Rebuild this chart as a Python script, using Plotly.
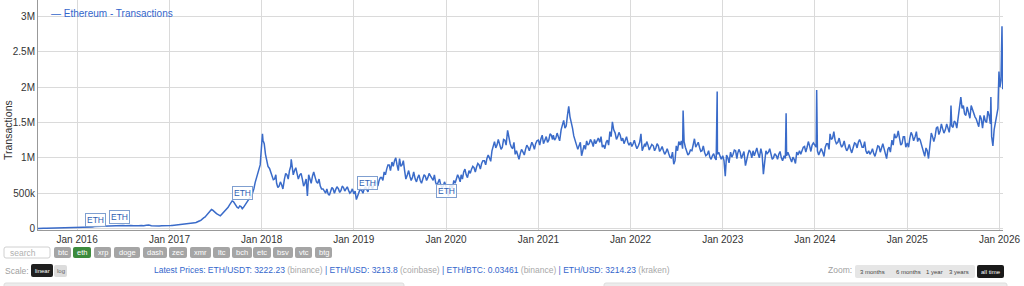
import plotly.graph_objects as go
import pandas as pd

# ---------------- DATA (daily Ethereum transactions, in thousands) ----------------
# values read on days 1, 11 and 21 of each month
tx_2015 = [1, 2, 3, 3, 4, 4, 4, 5, 5, 5, 6, 6, 7, 8, 9]  # Aug..Dec 2015
tx_2016 = [10, 12, 12, 14, 16, 18, 22, 28, 30, 28, 26, 30, 30, 32, 35, 40, 45, 50,
           42, 40, 45, 42, 40, 45, 40, 42, 38, 45, 50, 40, 35, 38, 36, 38, 36, 40]
tx_2017 = [40, 42, 45, 45, 48, 50, 55, 60, 65, 70, 80, 90, 110, 140, 160, 200, 250, 260,
           230, 200, 180, 220, 260, 300, 360, 380, 340, 290, 310, 300, 360, 420, 450, 560, 720, 850]
tx_2018 = [1150, 1200, 950, 850, 740, 700, 640, 600, 620, 700, 760, 820, 900, 820, 780, 760, 700, 640,
           460, 700, 740, 720, 640, 600, 560, 500, 490, 520, 560, 550, 560, 540, 580, 560, 540, 520]
tx_2019 = [490, 410, 500, 540, 560, 550, 580, 600, 620, 650, 680, 720, 800, 840, 900, 940, 960, 900,
           990, 900, 820, 760, 740, 720, 700, 720, 680, 700, 740, 720, 740, 680, 650, 650, 620, 600]
tx_2020 = [600, 460, 620, 680, 700, 720, 760, 800, 760, 820, 840, 860, 870, 900, 920, 960, 990, 1000,
           1100, 1230, 1180, 1200, 1150, 1250, 1390, 1200, 1130, 1050, 1030, 1060, 1080, 1120, 1150, 1160, 1180, 1200]
tx_2021 = [1250, 1270, 1200, 1300, 1250, 1320, 1320, 1280, 1300, 1400, 1530, 1450, 1730, 1510, 1310, 1200, 1170, 1030,
           1180, 1240, 1200, 1220, 1260, 1230, 1220, 1150, 1130, 1250, 1370, 1510, 1350, 1300, 1320, 1280, 1250, 1220]
tx_2022 = [1220, 1200, 1180, 1170, 1340, 1150, 1160, 1180, 1150, 1170, 1140, 1170, 1120, 1100, 1080, 1060, 1000, 910,
           1170, 1230, 1240, 1230, 1100, 1060, 1100, 1270, 1200, 1150, 1100, 1080, 1050, 1010, 1030, 1000, 1050, 1030]
tx_2023 = [1030, 740, 1000, 1080, 1050, 1100, 1060, 1080, 1040, 890, 1050, 1080, 1100, 1080, 1060, 1130, 770, 1100,
           1080, 1030, 1000, 1030, 1050, 1000, 1030, 1030, 1030, 940, 980, 1080, 1100, 1120, 1160, 1150, 1170, 1180]
tx_2024 = [1180, 1100, 1080, 1080, 1150, 1200, 1340, 1280, 1250, 1220, 1200, 1180, 1150, 1130, 1120, 1150, 1200, 1220,
           1210, 1150, 1100, 1100, 1080, 1060, 1100, 1160, 1140, 1130, 990, 1150, 1250, 1340, 1300, 1250, 1200, 1300]
tx_2025 = [1210, 1280, 1320, 1300, 1230, 1250, 1150, 1020, 1100, 1210, 1300, 1300, 1440, 1380, 1410, 1400, 1420, 1500,
           1430, 1500, 1550, 1860, 1740, 1600, 1650, 1740, 1650, 1550, 1440, 1550, 1600, 1500, 1600, 1300, 1400, 1600]

# values read on days 6, 16 and 26 of each month (day-to-day scatter of the band)
mid_2017 = [41, 44, 46, 47, 49, 52, 58, 62, 68, 75, 85, 100, 120, 150, 180, 230, 270, 240,
            210, 190, 200, 240, 280, 330, 390, 350, 300, 320, 280, 330, 400, 440, 500, 650, 800, 900]
mid_2018 = [1250, 1050, 880, 800, 690, 760, 580, 660, 560, 780, 700, 880, 760, 860, 700, 780, 600, 700,
            760, 640, 800, 660, 700, 560, 520, 560, 470, 580, 500, 590, 510, 600, 530, 590, 500, 560]
mid_2019 = [530, 460, 560, 500, 590, 520, 630, 560, 660, 600, 720, 680, 760, 900, 820, 880, 1000, 820,
            880, 960, 700, 820, 680, 800, 660, 760, 640, 760, 680, 780, 700, 760, 610, 700, 580, 660]
mid_2020 = [540, 600, 560, 640, 760, 660, 700, 840, 720, 780, 880, 800, 920, 840, 960, 900, 1040, 950,
            1180, 1140, 1260, 1120, 1260, 1180, 1280, 1150, 1220, 1100, 980, 1120, 1040, 1180, 1100, 1220, 1120, 1240]
mid_2021 = [1180, 1320, 1240, 1220, 1340, 1260, 1250, 1350, 1240, 1460, 1420, 1600, 1580, 1420, 1250, 1120, 1220, 1100,
            1120, 1180, 1260, 1160, 1200, 1280, 1300, 1180, 1220, 1180, 1300, 1400, 1260, 1360, 1240, 1200, 1300, 1180]
mid_2022 = [1160, 1250, 1130, 1220, 1100, 1200, 1230, 1110, 1190, 1100, 1200, 1090, 1160, 1050, 1130, 1010, 1080, 960,
            1100, 1180, 1130, 1150, 1040, 1110, 1180, 1150, 1220, 1090, 1170, 1030, 1100, 980, 1060, 970, 1080, 980]
mid_2023 = [960, 1040, 930, 1010, 1110, 990, 1120, 990, 1090, 990, 1110, 1000, 1030, 1140, 1000, 1050, 1000, 1060,
            1130, 980, 1060, 980, 1090, 960, 990, 1080, 960, 1010, 920, 1040, 1050, 1150, 1080, 1230, 1090, 1210]
mid_2024 = [1150, 1040, 1130, 1020, 1200, 1120, 1260, 1370, 1200, 1280, 1150, 1240, 1100, 1190, 1070, 1210, 1140, 1260,
            1150, 1230, 1060, 1050, 1130, 1020, 1170, 1080, 1200, 1060, 1120, 1080, 1180, 1280, 1380, 1180, 1300, 1150]
mid_2025 = [1150, 1360, 1240, 1370, 1280, 1180, 1080, 1140, 990, 1350, 1230, 1420, 1330, 1480, 1350, 1480, 1360, 1450,
            1520, 1420, 1640, 1700, 1620, 1720, 1560, 1680, 1580, 1480, 1600, 1420, 1520, 1660, 1480, 1170, 1500, 1700]

# individual days (spikes / dips / ends)
extra_dates = ["2015-07-30", "2017-12-28", "2018-01-04", "2018-04-28", "2022-07-28", "2022-12-10",
               "2023-09-09", "2024-01-08", "2025-06-23", "2025-11-28",
               "2025-12-30", "2026-01-03", "2026-01-07", "2026-01-11", "2026-01-14"]
extra_values = [0, 1000, 1340, 980, 1670, 1940,
                1630, 1960, 1740, 1860,
                2220, 2000, 2100, 2860, 1970]

# "ETH" event markers
eth_note_dates = ["2016-03-14", "2016-06-18", "2017-10-15", "2019-02-23", "2020-01-02"]
eth_note_values = [120, 163, 509, 637, 531]

y_tick_values = [0, 500000, 1000000, 1500000, 2000000, 2500000, 3000000]
y_tick_labels = ["0", "500k", "1M", "1.5M", "2M", "2.5M", "3M"]
x_tick_years = list(range(2016, 2027))
x_tick_labels = ["Jan %d" % y for y in x_tick_years]

coins = ["btc", "eth", "xrp", "doge", "dash", "zec", "xmr", "ltc", "bch", "etc", "bsv", "vtc", "btg"]
zoom_buttons = ["3 months", "6 months", "1 year", "3 years"]

# ---------------- build series ----------------
dates, vals = [], []


def add(year, start_month, arr, days):
    for i, v in enumerate(arr):
        dates.append(pd.Timestamp(year=year, month=start_month + i // 3, day=days[i % 3]))
        vals.append(v * 1000)


for year, start_month, arr in [(2015, 8, tx_2015), (2016, 1, tx_2016), (2017, 1, tx_2017),
                               (2018, 1, tx_2018), (2019, 1, tx_2019), (2020, 1, tx_2020),
                               (2021, 1, tx_2021), (2022, 1, tx_2022), (2023, 1, tx_2023),
                               (2024, 1, tx_2024), (2025, 1, tx_2025)]:
    add(year, start_month, arr, [1, 11, 21])
for year, arr in [(2017, mid_2017), (2018, mid_2018), (2019, mid_2019), (2020, mid_2020),
                  (2021, mid_2021), (2022, mid_2022), (2023, mid_2023), (2024, mid_2024),
                  (2025, mid_2025)]:
    add(year, 1, arr, [6, 16, 26])
for d, v in zip(extra_dates, extra_values):
    dates.append(pd.Timestamp(d))
    vals.append(v * 1000)
df = pd.DataFrame({"date": dates, "tx": vals}).sort_values("date")

LINE = "#3a6bc9"
BLUE_TXT = "#3366cc"
FONT = "Liberation Sans, Arial, sans-serif"

fig = go.Figure()
fig.add_trace(go.Scatter(x=df["date"], y=df["tx"], mode="lines",
                         line=dict(color=LINE, width=1.5), name="Ethereum - Transactions",
                         hoverinfo="skip"))

# ---------------- geometry helpers (pixel -> paper) ----------------
W, H = 1024, 286
ML, MR, MT, MB = 38, 21, 0, 56
PW, PH = W - ML - MR, H - MT - MB


def px(x):
    return (x - ML) / PW


def py(y):
    return (MT + PH - y) / PH


shapes = []
annotations = []


def rrect(x0, y0, x1, y1, fill, line=None, r=2):
    path = (f"M {px(x0 + r)},{py(y0)} L {px(x1 - r)},{py(y0)} Q {px(x1)},{py(y0)} {px(x1)},{py(y0 + r)} "
            f"L {px(x1)},{py(y1 - r)} Q {px(x1)},{py(y1)} {px(x1 - r)},{py(y1)} "
            f"L {px(x0 + r)},{py(y1)} Q {px(x0)},{py(y1)} {px(x0)},{py(y1 - r)} "
            f"L {px(x0)},{py(y0 + r)} Q {px(x0)},{py(y0)} {px(x0 + r)},{py(y0)} Z")
    shapes.append(dict(type="path", xref="paper", yref="paper", path=path,
                       fillcolor=fill, line=dict(color=line or fill, width=1 if line else 0),
                       layer="above"))


def text(x, y, s, size, color, anchor="left"):
    annotations.append(dict(xref="paper", yref="paper", x=px(x), y=py(y), text=s,
                            showarrow=False, xanchor=anchor, yanchor="middle",
                            font=dict(size=size, color=color, family=FONT)))


# legend text
text(49, 14, "— Ethereum - Transactions", 10, BLUE_TXT)

# y-axis title
annotations.append(dict(xref="paper", yref="paper", x=px(8), y=py(130), text="Transactions",
                        textangle=-90, showarrow=False, xanchor="center", yanchor="middle",
                        font=dict(size=10.5, color="#333", family=FONT)))

# ETH event boxes
for d, v in zip(eth_note_dates, eth_note_values):
    annotations.append(dict(x=pd.Timestamp(d), y=v * 1000, xref="x", yref="y", text="ETH",
                            showarrow=False, xanchor="center", yanchor="middle",
                            font=dict(size=8.5, color="#2f5fb3", family=FONT),
                            bgcolor="rgba(255,255,255,0.85)", bordercolor="#7f9fd0",
                            borderwidth=1, borderpad=1))

# search box + coin buttons
rrect(4, 247, 50, 258, "#ffffff", line="#d0d0d0", r=2)
text(8, 252.5, "search", 8.5, "#b0b0b0")
coin_x = [54, 73, 94, 114, 143, 169, 190, 213, 232, 253, 273, 295, 315]
coin_w = [17, 18, 17, 26, 24, 18, 21, 17, 20, 18, 20, 17, 17]
for c, x0, w in zip(coins, coin_x, coin_w):
    rrect(x0, 247, x0 + w, 258, "#3d8b3d" if c == "eth" else "#a5a5a5", r=2)
    text(x0 + w / 2, 252.5, c, 7.5, "#ffffff", anchor="center")

# scale row
text(3, 270.5, "Scale:", 8.5, "#a0a0a0")
rrect(31, 264, 53, 277, "#1f1f1f", r=2)
text(42, 270.5, "linear", 6, "#ffffff", anchor="center")
rrect(54, 265, 67, 277, "#dcdcdc", r=2)
text(60.5, 271, "log", 6, "#666666", anchor="center")

# latest prices
G = "#a8a8a8"
prices = ("Latest Prices: ETH/USDT: 3222.23 <span style='color:%s'>(binance)</span> | "
          "ETH/USD: 3213.8 <span style='color:%s'>(coinbase)</span> | "
          "ETH/BTC: 0.03461 <span style='color:%s'>(binance)</span> | "
          "ETH/USD: 3214.23 <span style='color:%s'>(kraken)</span>") % (G, G, G, G)
text(152, 270, prices, 8.5, BLUE_TXT)

# zoom row
text(826, 270, "Zoom:", 8.5, "#a0a0a0")
rrect(855, 265, 975, 278, "#e6e6e6", r=2)
zoom_cx = [872, 908, 934, 959]
for lab, cx in zip(zoom_buttons, zoom_cx):
    text(cx, 271.5, lab, 6, "#444444", anchor="center")
rrect(977, 265, 1004, 278, "#1a1a1a", r=2)
text(990.5, 271.5, "all time", 6, "#ffffff", anchor="center")

# bottom panels (next page element)
rrect(4, 283, 404, 292, "#ececec", line="#dddddd", r=2)
rrect(604, 283, 1007, 292, "#ececec", line="#dddddd", r=2)

fig.update_layout(
    width=W, height=H,
    margin=dict(l=ML, r=MR, t=MT, b=MB, pad=0),
    paper_bgcolor="white", plot_bgcolor="white",
    showlegend=False,
    font=dict(family=FONT, size=10, color="#333"),
    shapes=shapes, annotations=annotations,
    xaxis=dict(type="date", range=["2015-07-30", "2026-01-15"],
               tickvals=[pd.Timestamp(year=y, month=1, day=1) for y in x_tick_years],
               ticktext=x_tick_labels, showgrid=True, gridcolor="#dadada", gridwidth=1,
               showline=True, linecolor="#999999", linewidth=1, ticks="", zeroline=False,
               tickfont=dict(size=10, color="#333")),
    yaxis=dict(range=[-21000, 3233000], tickvals=y_tick_values, ticktext=y_tick_labels,
               showgrid=True, gridcolor="#dadada", gridwidth=1, showline=True,
               linecolor="#999999", linewidth=1, ticks="", zeroline=False,
               tickfont=dict(size=10, color="#333")),
)

fig.write_html("out.html", config={"displayModeBar": False})
